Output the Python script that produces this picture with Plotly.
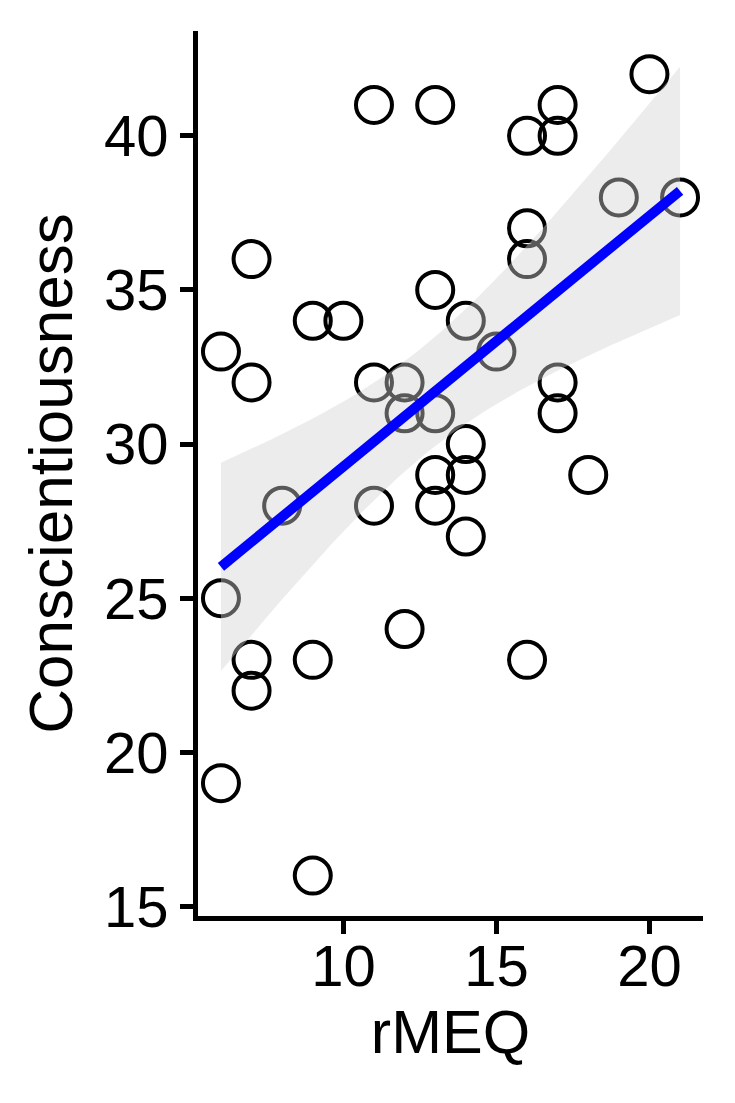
import numpy as np
import plotly.graph_objects as go

# Data
rmeq = [6, 6, 6, 7, 7, 7, 7, 8, 9, 9, 9, 10, 11, 11, 11, 12, 12, 12,
        13, 13, 13, 13, 13, 14, 14, 14, 14, 15, 16, 16, 16, 16,
        17, 17, 17, 17, 18, 19, 20, 21]
conscientiousness = [33, 25, 19, 36, 32, 23, 22, 28, 34, 23, 16, 34, 41, 32, 28, 32, 31, 24,
                     41, 35, 31, 29, 28, 34, 30, 29, 27, 33, 40, 37, 36, 23,
                     41, 40, 32, 31, 29, 38, 42, 38]
x_ticks = [10, 15, 20]
y_ticks = [15, 20, 25, 30, 35, 40]
x_title = "rMEQ"
y_title = "Conscientiousness"
t_crit = 2.024  # t quantile 0.975, df = n - 2 = 38

# Linear fit with 95% confidence band (as geom_smooth(method="lm"))
x = np.array(rmeq, dtype=float)
y = np.array(conscientiousness, dtype=float)
n = len(x)
slope, intercept = np.polyfit(x, y, 1)
resid = y - (intercept + slope * x)
s = np.sqrt(np.sum(resid ** 2) / (n - 2))
xbar = x.mean()
sxx = np.sum((x - xbar) ** 2)
xg = np.linspace(x.min(), x.max(), 80)
yg = intercept + slope * xg
se = s * np.sqrt(1.0 / n + (xg - xbar) ** 2 / sxx)
lo = yg - t_crit * se
hi = yg + t_crit * se

FONT = "Liberation Sans, Arial, sans-serif"

fig = go.Figure()
fig.add_trace(go.Scatter(
    x=rmeq, y=conscientiousness, mode="markers",
    marker=dict(symbol="circle-open", size=36, color="black",
                line=dict(width=4, color="black")),
    showlegend=False, hoverinfo="skip"))
fig.add_trace(go.Scatter(
    x=np.concatenate([xg, xg[::-1]]), y=np.concatenate([hi, lo[::-1]]),
    mode="lines", fill="toself", fillcolor="rgba(209,209,209,0.42)",
    line=dict(width=0, color="rgba(0,0,0,0)"),
    showlegend=False, hoverinfo="skip"))
fig.add_trace(go.Scatter(
    x=xg, y=yg, mode="lines", line=dict(color="#0000FF", width=10),
    showlegend=False, hoverinfo="skip"))

axis_common = dict(
    showgrid=False, zeroline=False, showline=True, linecolor="black", linewidth=5,
    ticks="outside", ticklen=13, tickwidth=5, tickcolor="black",
    tickfont=dict(family=FONT, size=58, color="black"),
)
fig.update_xaxes(range=[5.25, 21.75], tickvals=x_ticks, ticklabelstandoff=-18,
                 title=dict(text=x_title, font=dict(family=FONT, size=61, color="black"), standoff=11),
                 **axis_common)
fig.update_yaxes(range=[14.69, 43.4], tickvals=y_ticks, ticklabelstandoff=0,
                 title=dict(text=y_title, font=dict(family=FONT, size=62, color="black"), standoff=13),
                 **axis_common)
# page body has an 8px default margin; shift the figure to compensate
fig.update_layout(
    width=727, height=1095,
    margin=dict(l=190, r=32, t=23, b=187, autoexpand=False),
    plot_bgcolor="white", paper_bgcolor="white",
)
fig.write_html("out.html")
